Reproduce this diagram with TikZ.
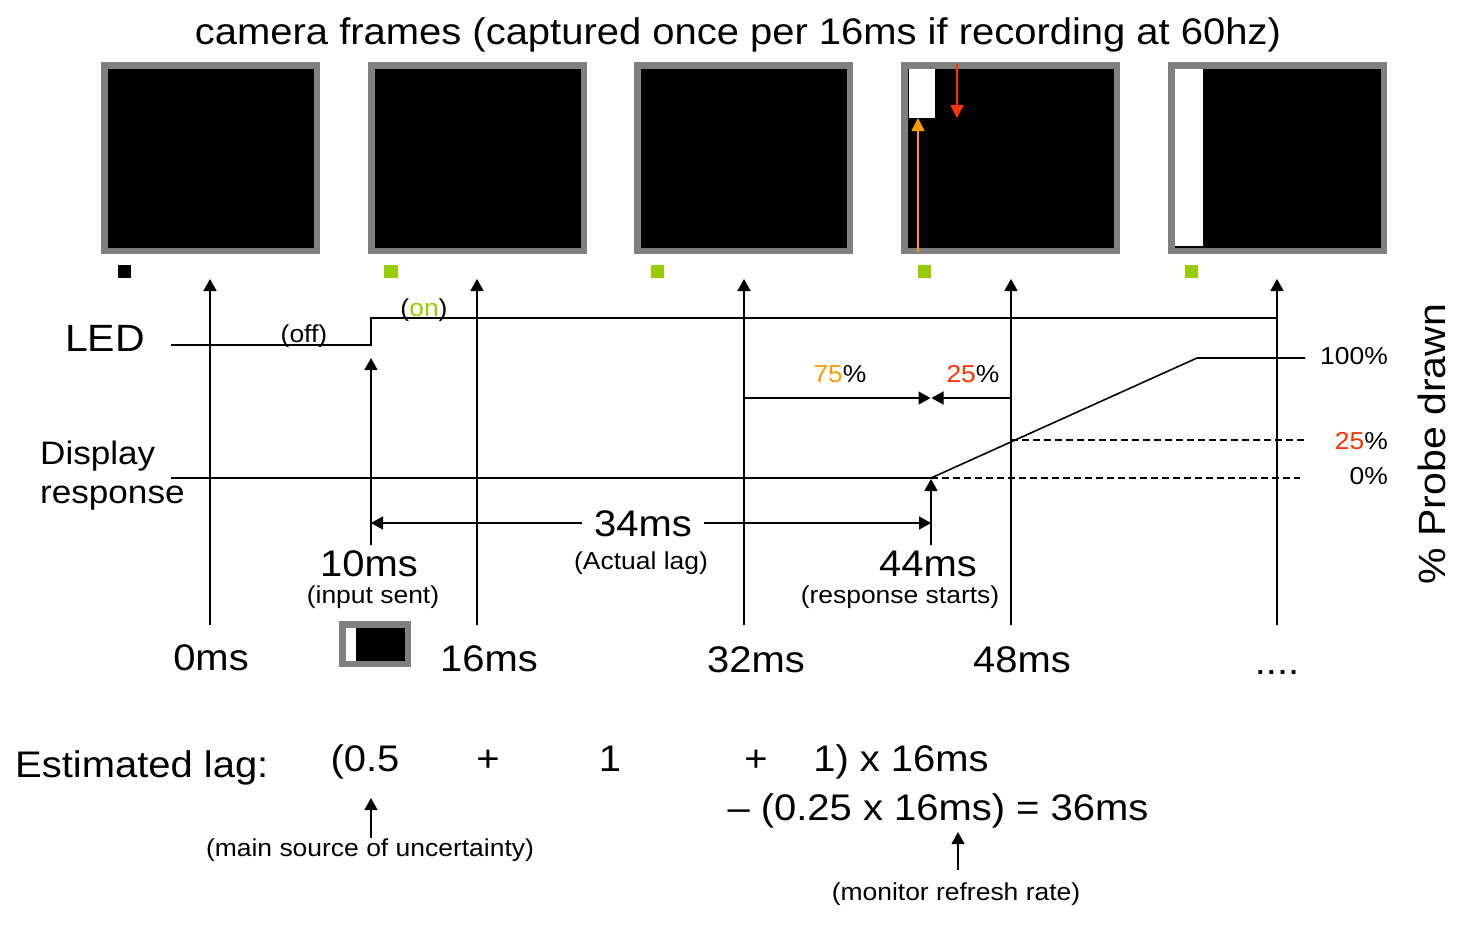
\documentclass[tikz,border=0pt]{standalone}
\usepackage{fontspec}
\setmainfont{Liberation Sans}[FakeStretch=1.08]
\usetikzlibrary{arrows.meta}
\definecolor{frgray}{HTML}{808080}
\definecolor{ledgreen}{HTML}{99CC00}
\definecolor{orng}{HTML}{FF9900}
\definecolor{rd}{HTML}{FF3300}
\newcommand\fsz[1]{\fontsize{#1pt}{#1pt}\selectfont}
\begin{document}
\begin{tikzpicture}[x=1pt,y=-1pt,
  >={Triangle[length=12pt,width=13pt]},
  ln/.style={line width=1.6pt},
  arr/.style={ln,->},
  dsh/.style={line width=1.3pt,dash pattern=on 7pt off 4pt},
  frame/.style={draw=frgray,line width=6.5pt,fill=black,minimum width=212.5pt,minimum height=185.5pt,inner sep=0pt},
  tbig/.style={font=\fsz{37},inner sep=0pt},
  tsmall/.style={font=\fsz{24.5},inner sep=0pt},
  tmid/.style={font=\fsz{32.5},inner sep=0pt},
  sq/.style={minimum size=13.5pt,inner sep=0pt},
]
\useasboundingbox[fill=white] (0,0) rectangle (1460,946);

% title
\node[font=\fsz{37},inner sep=0pt] (title) at (738,35) {camera frames (captured once per 16ms if recording at 60hz)};

% camera frames
\node[frame] (f1) at (210.5,158) {};
\node[frame] (f2) at (477.5,158) {};
\node[frame] (f3) at (743.5,158) {};
\node[frame] (f4) at (1010.5,158) {};
\node[frame] (f5) at (1277.5,158) {};
\fill[white] (909,69) rectangle (935,118);
\fill[white] (1175,69) rectangle (1203,246);
\coordinate (o1) at (918,252); \coordinate (o2) at (918,118);
\coordinate (r1) at (957,64);  \coordinate (r2) at (957,118);
\draw[orng,line width=1.5pt,-{Triangle[length=13pt,width=13pt]}] (o1) -- (o2);
\draw[rd,line width=1.5pt,-{Triangle[length=13pt,width=13pt]}] (r1) -- (r2);

% LED squares
\node[sq,fill=black] (s1) at (124.5,271.5) {};
\node[sq,fill=ledgreen] (s2) at (391,271.5) {};
\node[sq,fill=ledgreen] (s3) at (657.5,271.5) {};
\node[sq,fill=ledgreen] (s4) at (924.5,271.5) {};
\node[sq,fill=ledgreen] (s5) at (1191.5,271.5) {};

% frame capture time arrows
\foreach \x [count=\i] in {210,477,744,1011,1277} {
  \coordinate (b\i) at (\x,625);
  \coordinate (t\i) at (\x,279);
  \draw[arr] (b\i) -- (t\i);
}

% LED signal
\coordinate (L0) at (171,345); \coordinate (L1) at (371,345);
\coordinate (L2) at (371,318); \coordinate (L3) at (1277,318);
\draw[ln] (L0) -- (L1) -- (L2) -- (L3);
\node[tbig,font=\fsz{38}] (led) at (105,338) {LED};
\node[tsmall] (off) at (304,336) {(off)};
\node[tsmall] (on) at (424,310) {(\textcolor{ledgreen}{on})};

% input sent arrow
\coordinate (i0) at (371,545); \coordinate (i1) at (371,358);
\draw[arr] (i0) -- (i1);

% display response
\coordinate (D0) at (171,478); \coordinate (D1) at (931,478);
\coordinate (D2) at (1197,358); \coordinate (D3) at (1305,358);
\draw[ln,line join=round] (D0) -- (D1) -- (D2) -- (D3);
\coordinate (z1) at (1300,478);
\coordinate (q0) at (1011,440); \coordinate (q1) at (1305,440);
\draw[dsh] (D1) -- (z1);
\draw[dsh] (q0) -- (q1);
\node[tmid,anchor=west] (disp) at (40,456) {Display};
\node[tmid,anchor=west] (resp) at (40,498) {response};

% response start arrow
\coordinate (e0) at (931,545); \coordinate (e1) at (931,479);
\draw[arr] (e0) -- (e1);

% 75% / 25% arrows
\coordinate (p0) at (744,398); \coordinate (pm) at (930.5,398); \coordinate (pn) at (931.5,398);
\coordinate (p1) at (1011,398);
\draw[arr] (p0) -- (pm);
\draw[arr] (p1) -- (pn);
\node[tsmall] (p75) at (840,374) {\textcolor{orng}{75}\%};
\node[tsmall] (p25) at (973,374) {\textcolor{rd}{25}\%};

% percent scale
\node[tsmall,anchor=east] (c100) at (1388,356) {100\%};
\node[tsmall,anchor=east] (c25) at (1388,441) {\textcolor{rd}{25}\%};
\node[tsmall,anchor=east] (c0) at (1388,476) {0\%};
\node[font=\fsz{38},inner sep=0pt,rotate=90] (probe) at (1432,444) {\% Probe drawn};

% actual lag
\coordinate (a0) at (371,523); \coordinate (a1) at (931,523);
\draw[ln,<->] (a0) -- (a1);
\node[tbig,fill=white,inner xsep=12pt,inner ysep=2pt] (lag) at (643,524) {34ms};
\node[tsmall] (actual) at (641,563) {(Actual lag)};

\node[tbig] (ms10) at (369,564) {10ms};
\node[tsmall] (input) at (373,597) {(input sent)};
\node[tbig] (ms44) at (928,564) {44ms};
\node[tsmall] (rstart) at (900,597) {(response starts)};

% time labels
\node[tbig] (ms0) at (211,658) {0ms};
\node[tbig] (ms16) at (489,659) {16ms};
\node[tbig] (ms32) at (756,660) {32ms};
\node[tbig] (ms48) at (1022,660) {48ms};
\node[tbig] (dots) at (1277,673) {....};

% small frame icon
\node[draw=frgray,line width=6.5pt,fill=black,minimum width=65.5pt,minimum height=39.5pt,inner sep=0pt] (icon) at (375,644) {};
\fill[white] (346,628) rectangle (356,661);

% estimated lag
\node[tbig,anchor=base west] (est) at (15,777) {Estimated lag:};
\node[tbig,anchor=base] (h05) at (365,771) {(0.5};
\node[tbig,anchor=base] (plus1) at (488,771) {+};
\node[tbig,anchor=base] (one) at (610,771) {1};
\node[tbig,anchor=base] (plus2) at (756,771) {+};
\node[tbig,anchor=base] (onex) at (901,771) {1) x 16ms};
\node[tbig,anchor=base] (minus) at (938,820) {\textendash\ (0.25 x 16ms) = 36ms};

\coordinate (u0) at (371,838); \coordinate (u1) at (371,798);
\draw[ln,line width=1.4pt,->] (u0) -- (u1);
\node[tsmall] (unc) at (370,850) {(main source of uncertainty)};
\coordinate (m0) at (958,870); \coordinate (m1) at (958,832);
\draw[ln,line width=1.4pt,->] (m0) -- (m1);
\node[tsmall] (mon) at (956,894) {(monitor refresh rate)};
\end{tikzpicture}
\end{document}
